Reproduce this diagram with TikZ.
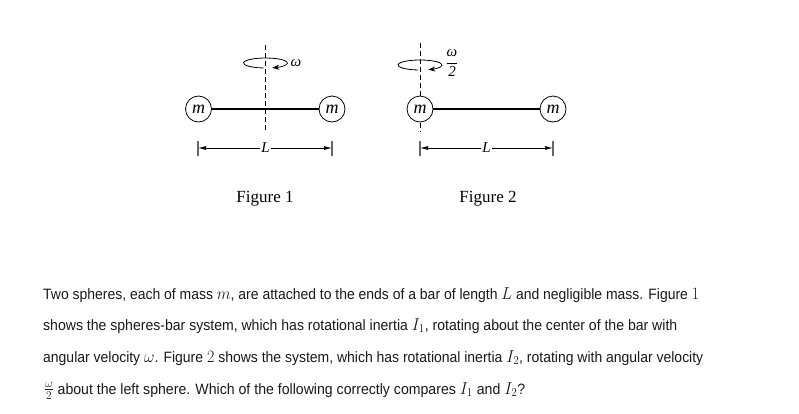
\documentclass[tikz,border=0pt]{standalone}
\usepackage{graphicx}
\usepackage{fontspec}
\setmainfont{Liberation Sans}
\newfontfamily\figfont{Liberation Serif}
\usetikzlibrary{arrows.meta}
\newcommand{\mth}[1]{{\fontsize{17}{17}\selectfont$#1$}}
\begin{document}
\begin{tikzpicture}[x=1pt,y=-1pt,
  mass/.style={circle,draw,fill=white,minimum size=26pt,inner sep=0pt,line width=0.8pt,font=\figfont\itshape\fontsize{18}{18}\selectfont},
  bar/.style={line width=2pt},
  axisline/.style={dash pattern=on 5pt off 3pt,line width=0.8pt},
  rotarrow/.style={line width=0.8pt,-{Stealth[length=7pt,width=5pt]}},
  dimline/.style={-{Latex[length=8pt,width=4pt]},line width=0.8pt},
  tickmark/.style={line width=1.2pt,draw=gray!80!black},
  figlab/.style={anchor=base,inner sep=0pt,font=\figfont\fontsize{17}{17}\selectfont},
  symlab/.style={font=\figfont\itshape\fontsize{15}{15}\selectfont,inner sep=0pt},
  body/.style={anchor=base west,inner sep=0pt,text=black!90,font=\fontsize{15}{15}\selectfont}]
\useasboundingbox (0,0) rectangle (799,413);

% ---------- Figure 1 ----------
\coordinate (a1t) at (265.5,45);
\coordinate (a1b) at (265.5,132);
\node[mass] (m1l) at (198.5,109) {m};
\node[mass] (m1r) at (332,109) {m};
\draw[bar] (m1l) -- (m1r);
\draw[axisline] (a1t) -- (a1b);
\coordinate (e1) at (265.5,63);
\draw[rotarrow] ([shift={(95:22 and 5)}]e1) arc[start angle=95,end angle=432,x radius=22,y radius=5];
\node[symlab] (w1) at (296,63) {ω};
\coordinate (t1lt) at (198,141); \coordinate (t1lb) at (198,156);
\coordinate (t1rt) at (332,141); \coordinate (t1rb) at (332,156);
\coordinate (d1l) at (198,148); \coordinate (d1r) at (332,148);
\draw[tickmark] (t1lt) -- (t1lb);
\draw[tickmark] (t1rt) -- (t1rb);
\node[symlab,inner sep=1pt] (L1) at (265.5,148) {L};
\draw[dimline] (L1.west) -- (d1l);
\draw[dimline] (L1.east) -- (d1r);
\node[figlab] (f1) at (265,202) {Figure 1};

% ---------- Figure 2 ----------
\coordinate (a2t) at (420,43);
\coordinate (a2b) at (420,132);
\draw[axisline] (a2t) -- (a2b);
\node[mass] (m2l) at (420,109) {m};
\node[mass] (m2r) at (553,109) {m};
\draw[bar] (m2l) -- (m2r);
\coordinate (e2) at (420,65);
\draw[rotarrow] ([shift={(95:22 and 5)}]e2) arc[start angle=95,end angle=428,x radius=22,y radius=5];
\node[symlab,align=center] (w2) at (452,63) {$\displaystyle\frac{\hbox{\figfont\itshape ω}}{\hbox{\figfont 2}}$};
\coordinate (t2lt) at (420,141); \coordinate (t2lb) at (420,156);
\coordinate (t2rt) at (553,141); \coordinate (t2rb) at (553,156);
\coordinate (d2l) at (420,148); \coordinate (d2r) at (553,148);
\draw[tickmark] (t2lt) -- (t2lb);
\draw[tickmark] (t2rt) -- (t2rb);
\node[symlab,inner sep=1pt] (L2) at (486.5,148) {L};
\draw[dimline] (L2.west) -- (d2l);
\draw[dimline] (L2.east) -- (d2r);
\node[figlab] (f2) at (488,202) {Figure 2};

% ---------- Text ----------
\node[body] (l1) at (43,299) {\resizebox{656pt}{\height}{Two spheres, each of mass \mth{m}, are attached to the ends of a bar of length \mth{L} and negligible mass. Figure \mth{1}}};
\node[body] (l2) at (43,330) {\resizebox{634pt}{\height}{shows the spheres-bar system, which has rotational inertia \mth{I_1}, rotating about the center of the bar with}};
\node[body] (l3) at (43,362) {\resizebox{660pt}{\height}{angular velocity \mth{\omega}. Figure \mth{2} shows the system, which has rotational inertia \mth{I_2}, rotating with angular velocity}};
\node[body] (l4) at (44,394) {\resizebox{481pt}{\height}{\mth{\frac{\omega}{2}} about the left sphere. Which of the following correctly compares \mth{I_1} and \mth{I_2}?}};
\end{tikzpicture}
\end{document}
